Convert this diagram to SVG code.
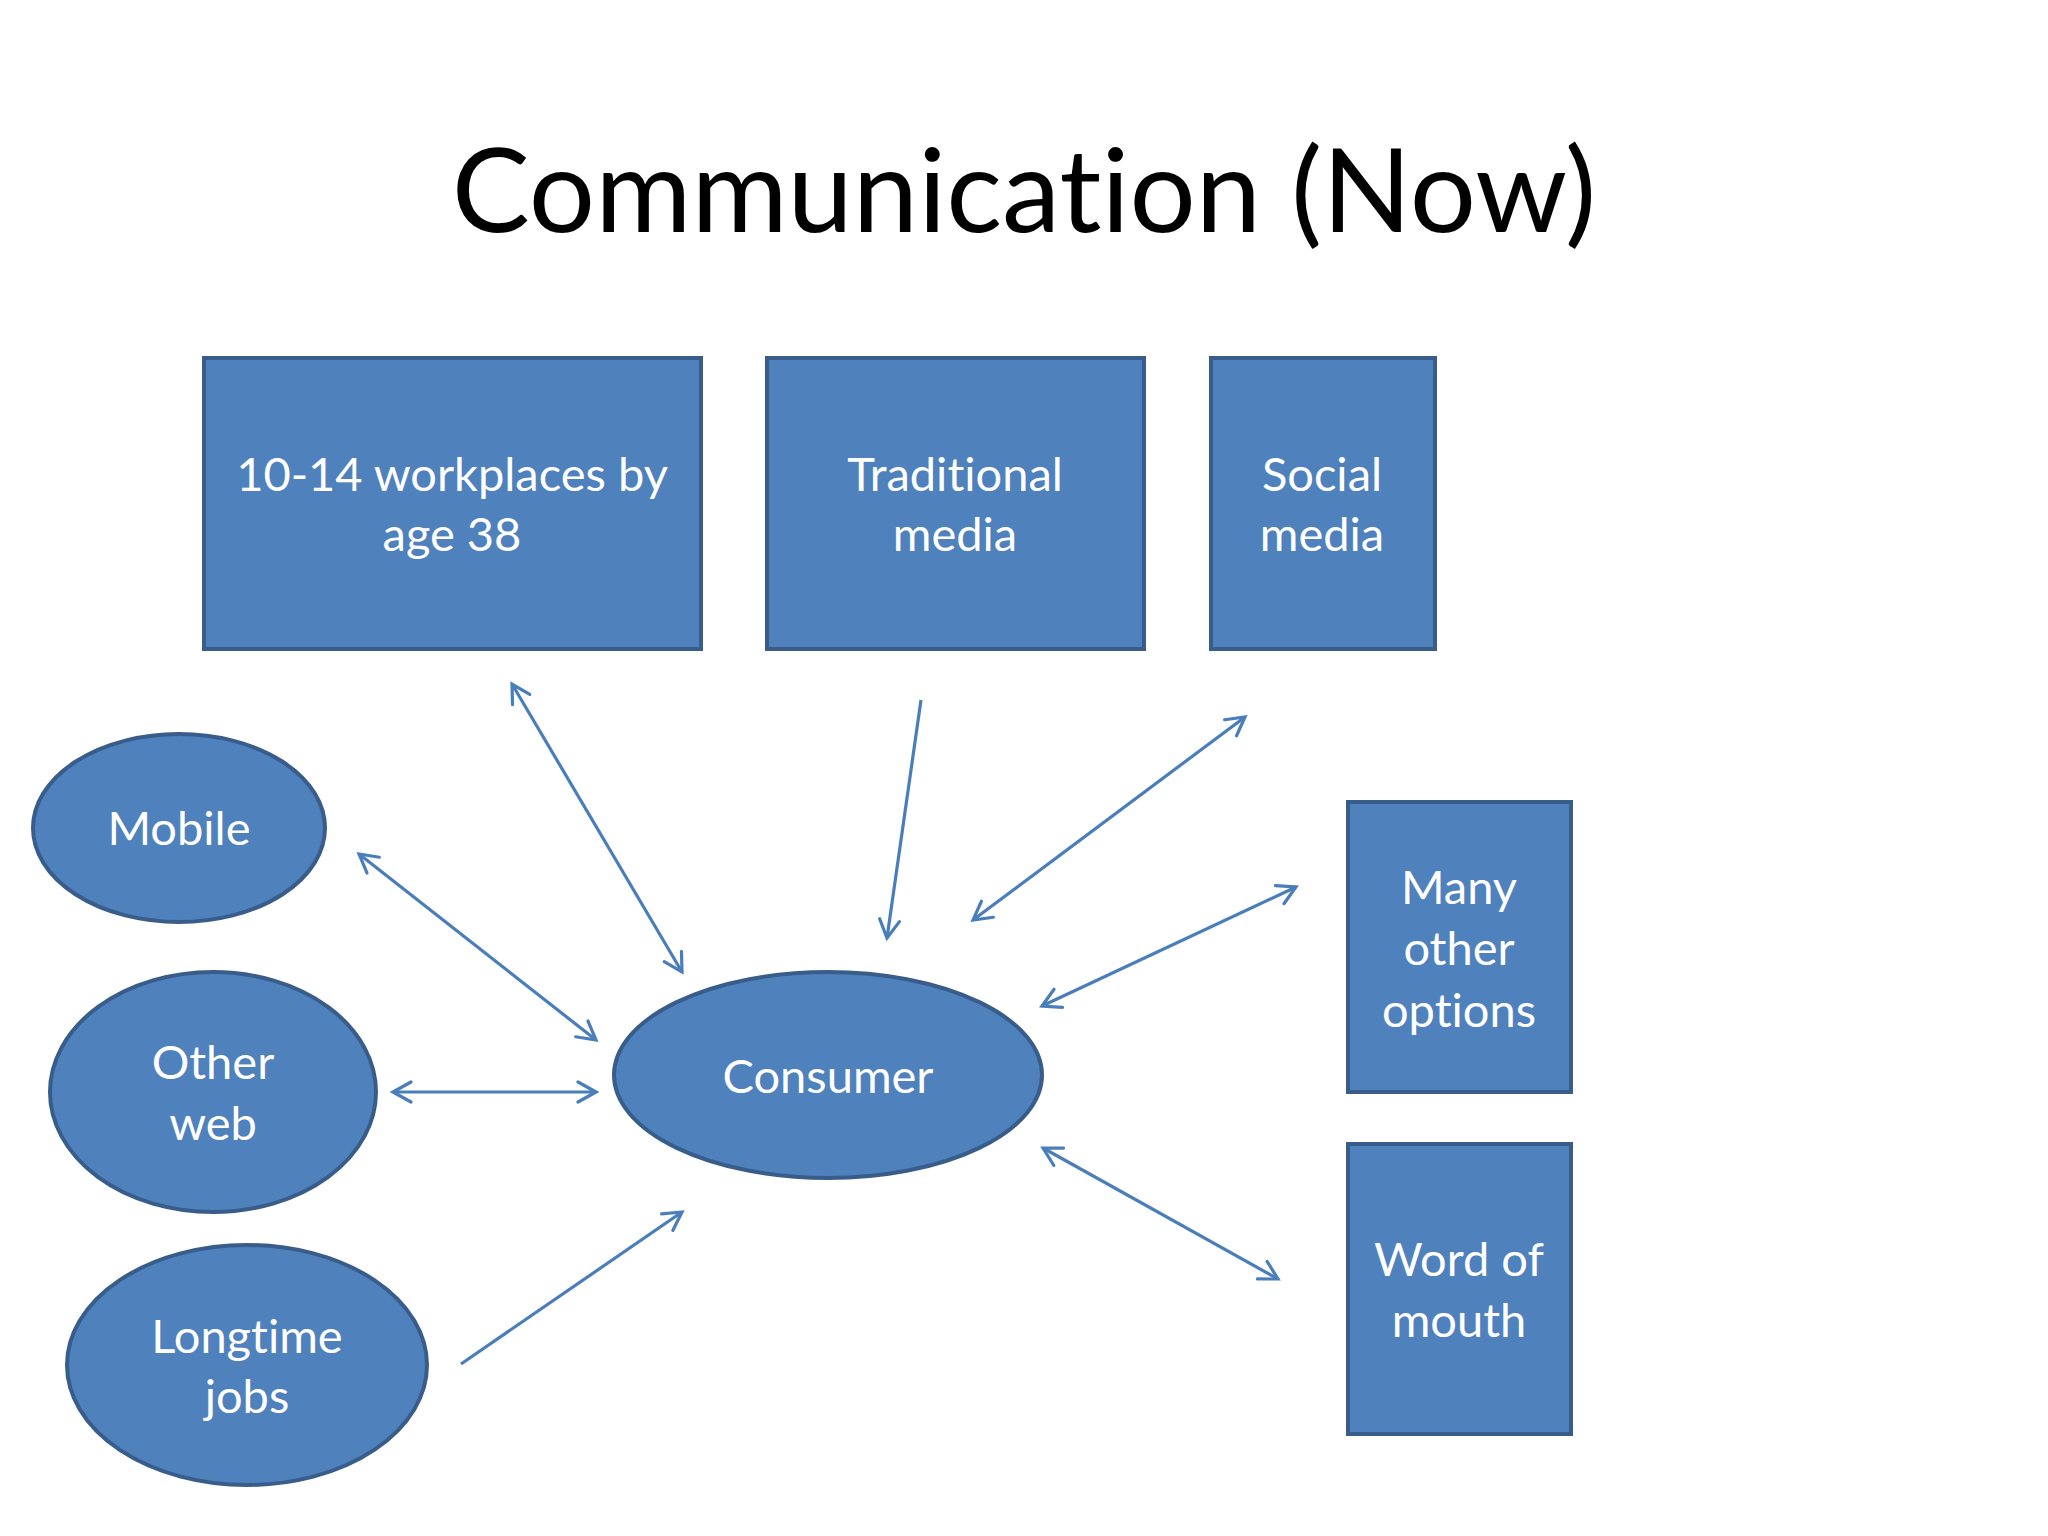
<svg xmlns="http://www.w3.org/2000/svg" width="2048" height="1536" viewBox="0 0 2048 1536">
<style>
.node{fill:#4F81BD;stroke:#385D8A;stroke-width:4}
.lbl{font-family:Lato,"Open Sans","Liberation Sans",sans-serif;font-size:47px;fill:#FFFFFF;text-anchor:middle;font-variant-ligatures:none}
.title{font-family:Lato,"Open Sans","Liberation Sans",sans-serif;font-size:117px;fill:#000000;text-anchor:middle;font-variant-ligatures:none}
.conn{stroke:#4A7EBB;stroke-width:3.2;fill:none}
</style>
<defs>
<marker id="ah" markerUnits="userSpaceOnUse" markerWidth="26" markerHeight="26" viewBox="0 0 26 26" refX="23" refY="13" orient="auto-start-reverse">
<path d="M5,3 L23,13 L5,23" fill="none" stroke="#4A7EBB" stroke-width="3.2" stroke-linecap="round" stroke-linejoin="miter"/>
</marker>
</defs>
<rect width="2048" height="1536" fill="#FFFFFF"/>
<text class="title" x="1024" y="232">Communication (Now)</text>

<g id="node-workplaces"><rect class="node" x="204" y="358" width="497" height="291"/><text class="lbl" x="452" y="491">10-14 workplaces by</text><text class="lbl" x="452" y="551">age 38</text></g>
<g id="node-traditional"><rect class="node" x="767" y="358" width="377" height="291"/><text class="lbl" x="955" y="491">Traditional</text><text class="lbl" x="955" y="551">media</text></g>
<g id="node-social"><rect class="node" x="1211" y="358" width="224" height="291"/><text class="lbl" x="1322" y="491">Social</text><text class="lbl" x="1322" y="551">media</text></g>
<g id="node-many"><rect class="node" x="1348" y="802" width="223" height="290"/><text class="lbl" x="1459" y="904">Many</text><text class="lbl" x="1459" y="965">other</text><text class="lbl" x="1459" y="1027">options</text></g>
<g id="node-word"><rect class="node" x="1348" y="1144" width="223" height="290"/><text class="lbl" x="1459" y="1276">Word of</text><text class="lbl" x="1459" y="1337">mouth</text></g>
<g id="node-mobile"><ellipse class="node" cx="179" cy="828" rx="146" ry="94"/><text class="lbl" x="179" y="845">Mobile</text></g>
<g id="node-otherweb"><ellipse class="node" cx="213" cy="1092" rx="163" ry="120"/><text class="lbl" x="213" y="1079">Other</text><text class="lbl" x="213" y="1140">web</text></g>
<g id="node-longtime"><ellipse class="node" cx="247" cy="1365" rx="180" ry="120"/><text class="lbl" x="247" y="1353">Longtime</text><text class="lbl" x="247" y="1413">jobs</text></g>
<g id="node-consumer"><ellipse class="node" cx="828" cy="1075" rx="214" ry="103"/><text class="lbl" x="828" y="1093">Consumer</text></g>

<g id="connectors">
<line class="conn" x1="512" y1="684" x2="682" y2="972" marker-start="url(#ah)" marker-end="url(#ah)"/>
<line class="conn" x1="921" y1="700" x2="887" y2="938" marker-end="url(#ah)"/>
<line class="conn" x1="1245" y1="717" x2="973" y2="920" marker-start="url(#ah)" marker-end="url(#ah)"/>
<line class="conn" x1="1296" y1="887" x2="1042" y2="1006" marker-start="url(#ah)" marker-end="url(#ah)"/>
<line class="conn" x1="359" y1="854" x2="596" y2="1040" marker-start="url(#ah)" marker-end="url(#ah)"/>
<line class="conn" x1="393" y1="1092" x2="596" y2="1092" marker-start="url(#ah)" marker-end="url(#ah)"/>
<line class="conn" x1="461" y1="1364" x2="682" y2="1212" marker-end="url(#ah)"/>
<line class="conn" x1="1043" y1="1148" x2="1278" y2="1279" marker-start="url(#ah)" marker-end="url(#ah)"/>
</g>
</svg>
